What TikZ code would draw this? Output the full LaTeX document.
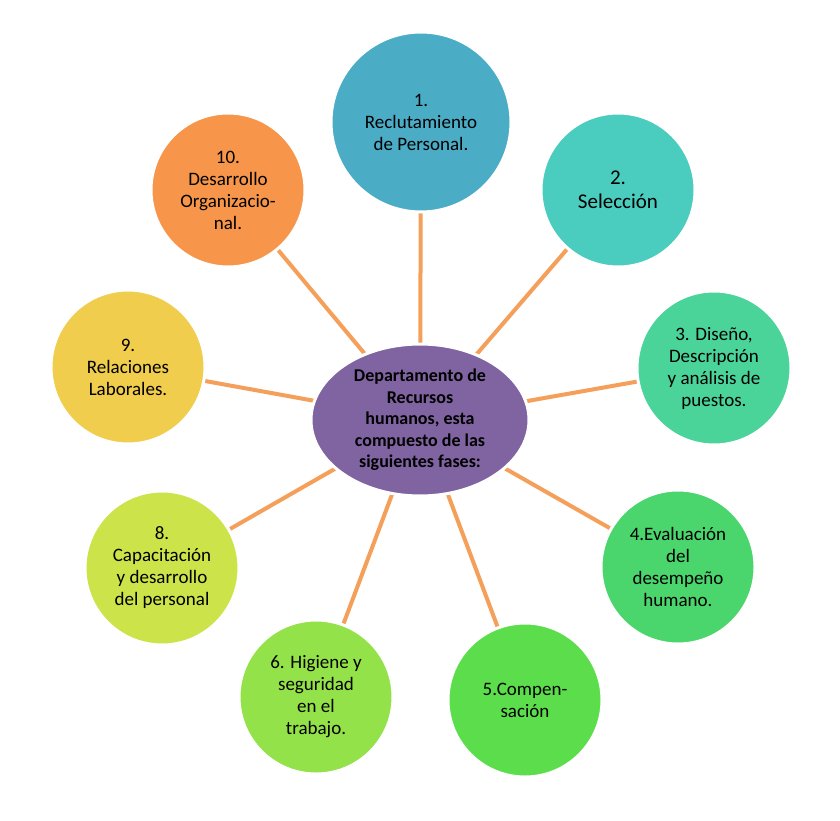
\documentclass[tikz,border=0pt]{standalone}
\usepackage{fontspec}
\setmainfont{Carlito}
\usetikzlibrary{shapes.geometric,backgrounds}
\definecolor{cA}{HTML}{4BACC6}
\definecolor{cB}{HTML}{4ACDBE}
\definecolor{cC}{HTML}{4AD49A}
\definecolor{cD}{HTML}{4AD66C}
\definecolor{cE}{HTML}{5CDE4C}
\definecolor{cF}{HTML}{94E24A}
\definecolor{cG}{HTML}{CCE44A}
\definecolor{cH}{HTML}{F0CD4C}
\definecolor{cI}{HTML}{F7964A}
\definecolor{cP}{HTML}{8064A2}
\definecolor{ln}{HTML}{F4A05A}
\begin{document}
\begin{tikzpicture}[x=1pt,y=-1pt,
 phase/.style={circle,draw=white,line width=3pt,minimum size=154pt,inner sep=0pt,align=center,font=\fontsize{19}{22}\selectfont},
 link/.style={draw=ln,line width=4pt}]
\useasboundingbox (0,0) rectangle (840,821);
\node[ellipse,fill=cP,draw=white,line width=3pt,minimum width=218pt,minimum height=152pt,inner sep=0pt,align=center,font=\bfseries\fontsize{18}{21.5}\selectfont] (c) at (420,420) {Departamento de\\Recursos\\humanos, esta\\compuesto de las\\siguientes fases:};
\node[phase,fill=cA,minimum size=180pt] (p1) at (421,122) {1.\\Reclutamiento\\de Personal.};
\node[phase,fill=cB,font=\fontsize{21}{24}\selectfont] (p2) at (618,190) {2.\\Selección};
\node[phase,fill=cC] (p3) at (714,368) {3. Diseño,\\Descripción\\y análisis de\\puestos.};
\node[phase,fill=cD] (p4) at (678,567) {4.Evaluación\\del\\desempeño\\humano.};
\node[phase,fill=cE] (p5) at (525,700) {5.Compen-\\sación};
\node[phase,fill=cF] (p6) at (316,697) {6. Higiene y\\seguridad\\en el\\trabajo.};
\node[phase,fill=cG] (p8) at (162,568) {8.\\Capacitación\\y desarrollo\\del personal};
\node[phase,fill=cH] (p9) at (128,367) {9.\\Relaciones\\Laborales.};
\node[phase,fill=cI] (p10) at (228,190) {10.\\Desarrollo\\Organizacio-\\nal.};
\begin{scope}[on background layer]
\fill[white] (0,0) rectangle (840,821);
\foreach \p in {p1,p2,p3,p4,p5,p6,p8,p9,p10}{\draw[link] (c.center) -- (\p.center);}
\end{scope}
\end{tikzpicture}
\end{document}
